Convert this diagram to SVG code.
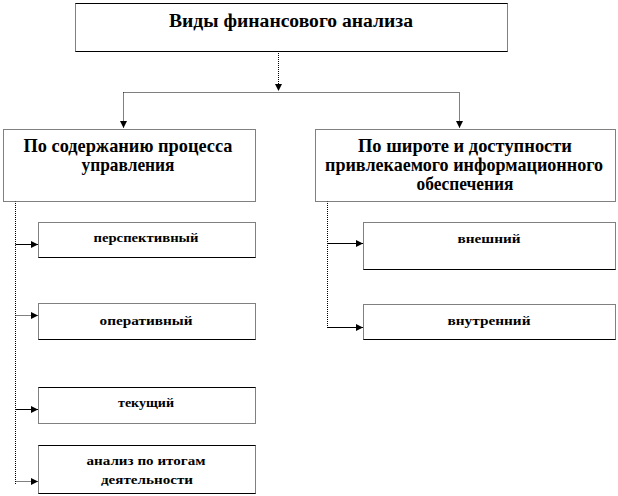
<svg xmlns="http://www.w3.org/2000/svg" width="618" height="496" viewBox="0 0 618 496">
<style>
  .box { fill: #fff; stroke: #000; stroke-width: 1; stroke-dasharray: 1 1; }
  .edge { stroke: #000; stroke-width: 1; fill: none; }
  .dot { stroke: #000; stroke-width: 1; fill: none; stroke-dasharray: 1 1; }
  .solid { stroke: #000; stroke-width: 1; fill: none; }
  text { font-family: "Liberation Serif", "DejaVu Serif", "Times New Roman", serif; font-weight: bold; fill: #000; text-anchor: middle; }
  .t1 { font-size: 18px; }
  .t2 { font-size: 19px; }
  .t3 { font-size: 13.5px; }
</style>
<defs>
  <marker id="arr" markerUnits="userSpaceOnUse" markerWidth="8" markerHeight="8" refX="7" refY="3.5" orient="auto">
    <path d="M0,0 L7,3.5 L0,7 z" fill="#000"/>
  </marker>
</defs>
<rect width="618" height="496" fill="#fff"/>

<g id="connectors">
  <path class="dot" d="M278.5,45 V91" marker-end="url(#arr)"/>
  <path class="dot" d="M123.5,92.5 H459.5"/>
  <path class="dot" d="M123.5,92.5 V128" marker-end="url(#arr)"/>
  <path class="dot" d="M459.5,92.5 V128" marker-end="url(#arr)"/>

  <path class="dot" d="M15.5,197 V485"/>
  <path class="solid" d="M15.5,244.5 H38" marker-end="url(#arr)"/>
  <path class="dot" d="M15.5,315.5 H38" marker-end="url(#arr)"/>
  <path class="solid" d="M15.5,409.5 H38" marker-end="url(#arr)"/>
  <path class="dot" d="M15.5,481.5 H38" marker-end="url(#arr)"/>

  <path class="dot" d="M327.5,197 V328"/>
  <path class="solid" d="M327.5,243.5 H363" marker-end="url(#arr)"/>
  <path class="solid" d="M327.5,327.5 H363" marker-end="url(#arr)"/>
</g>

<g id="node-root">
  <rect class="box" x="75.5" y="3.5" width="432" height="48"/>
  <path class="edge" d="M75.5,3.5 H507.5 M75.5,51.5 H507.5"/>
  <text class="t1" x="291" y="27" textLength="244" lengthAdjust="spacingAndGlyphs">Виды финансового анализа</text>
</g>

<g id="node-content">
  <rect class="box" x="3.5" y="129.5" width="252" height="72"/>
  <text class="t2" x="128" y="152" textLength="209" lengthAdjust="spacingAndGlyphs">По содержанию процесса</text>
  <text class="t2" x="128" y="171" textLength="93" lengthAdjust="spacingAndGlyphs">управления</text>
</g>

<g id="node-scope">
  <rect class="box" x="315.5" y="129.5" width="300" height="72"/>
  <text class="t2" x="465" y="152" textLength="214" lengthAdjust="spacingAndGlyphs">По широте и доступности</text>
  <text class="t2" x="464" y="171" textLength="278" lengthAdjust="spacingAndGlyphs">привлекаемого информационного</text>
  <text class="t2" x="465" y="190" textLength="97" lengthAdjust="spacingAndGlyphs">обеспечения</text>
</g>

<g id="node-perspective">
  <rect class="box" x="38.5" y="222.5" width="217" height="35"/>
  <path class="edge" d="M38.5,257.5 H255.5"/>
  <text class="t3" x="146" y="242" textLength="105" lengthAdjust="spacingAndGlyphs">перспективный</text>
</g>

<g id="node-operative">
  <rect class="box" x="38.5" y="303.5" width="217" height="36"/>
  <path class="edge" d="M38.5,339.5 H255.5"/>
  <text class="t3" x="146" y="325" textLength="93" lengthAdjust="spacingAndGlyphs">оперативный</text>
</g>

<g id="node-current">
  <rect class="box" x="38.5" y="387.5" width="217" height="36"/>
  <path class="edge" d="M38.5,387.5 H255.5"/>
  <text class="t3" x="146" y="407" textLength="56" lengthAdjust="spacingAndGlyphs">текущий</text>
</g>

<g id="node-results">
  <rect class="box" x="38.5" y="445.5" width="217" height="48"/>
  <path class="edge" d="M38.5,445.5 H255.5 M38.5,493.5 H255.5"/>
  <text class="t3" x="146" y="465" textLength="119" lengthAdjust="spacingAndGlyphs">анализ по итогам</text>
  <text class="t3" x="147" y="484" textLength="92" lengthAdjust="spacingAndGlyphs">деятельности</text>
</g>

<g id="node-external">
  <rect class="box" x="363.5" y="222.5" width="252" height="47"/>
  <path class="edge" d="M363.5,269.5 H615.5"/>
  <text class="t3" x="489" y="243" textLength="63" lengthAdjust="spacingAndGlyphs">внешний</text>
</g>

<g id="node-internal">
  <rect class="box" x="363.5" y="304.5" width="252" height="35"/>
  <path class="edge" d="M363.5,339.5 H615.5"/>
  <text class="t3" x="489" y="325" textLength="83" lengthAdjust="spacingAndGlyphs">внутренний</text>
</g>
</svg>
